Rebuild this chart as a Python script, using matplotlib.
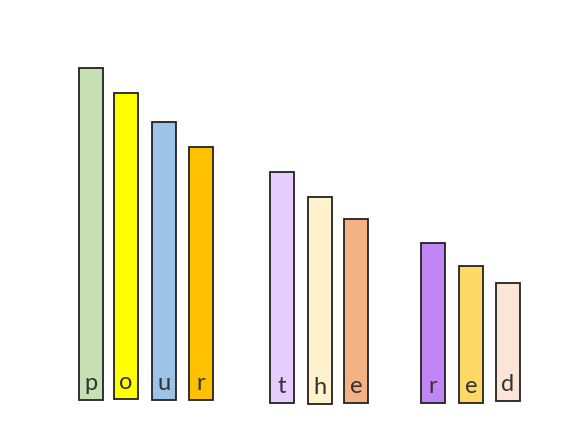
import matplotlib
matplotlib.use("Agg")
import matplotlib.pyplot as plt

letters = ["p", "o", "u", "r", "t", "h", "e", "r", "e", "d"]
x_pos = [91, 126, 164, 201, 282, 320, 356, 433, 471, 508]
tops = [68, 93, 122, 147, 172, 197, 219, 243, 266, 283]
bottoms = [400, 399, 400, 400, 403, 404, 403, 403, 403, 401]
colors = ["#c6e0b4", "#ffff00", "#9dc3e6", "#ffc000", "#e6ccff",
          "#fff2cc", "#f4b183", "#c285f5", "#ffd966", "#fbe5d6"]

fig = plt.figure(figsize=(5.8, 4.45), dpi=100)
ax = fig.add_axes([0, 0, 1, 1])
ax.set_xlim(0, 580)
ax.set_ylim(445, 0)
ax.axis("off")

heights = [b - t for b, t in zip(bottoms, tops)]
ax.bar(x_pos, heights, bottom=tops, width=24, color=colors,
       edgecolor="#222222", linewidth=1.3)

for x, b, l in zip(x_pos, bottoms, letters):
    ax.text(x, b - 6, l, ha="center", va="bottom", fontsize=17,
            family="Lato", color="#333333")

fig.savefig("out.png", dpi=100)
